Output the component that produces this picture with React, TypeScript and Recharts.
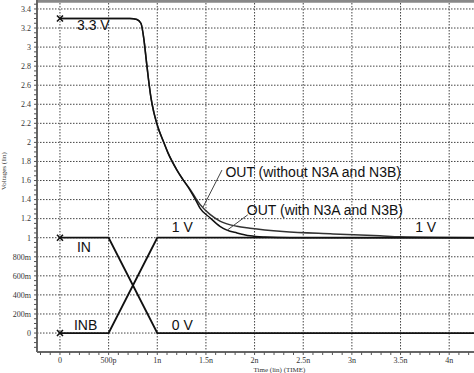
import React from "react";
import {
  LineChart,
  Line,
  XAxis,
  YAxis,
  CartesianGrid,
  ReferenceDot,
  ReferenceLine,
} from "recharts";

// axis ranges (time in ns, voltage in V)
const T_MIN = -0.236;
const T_MAX = 4.255;
const V_MIN = -0.199;
const V_MAX = 3.494;

const xMajor = [0, 0.5, 1, 1.5, 2, 2.5, 3, 3.5, 4];
const xLabels = ["0", "500p", "1n", "1.5n", "2n", "2.5n", "3n", "3.5n", "4n"];
const yMajor = [0, 0.2, 0.4, 0.6, 0.8, 1, 1.2, 1.4, 1.6, 1.8, 2, 2.2, 2.4, 2.6, 2.8, 3, 3.2, 3.4];
const yLabels = ["0", "200m", "400m", "600m", "800m", "1", "1.2", "1.4", "1.6", "1.8", "2", "2.2", "2.4", "2.6", "2.8", "3", "3.2", "3.4"];

// small ticks along the axes
const xMinor = Array.from({ length: 45 }, (_, i) => +(-0.2 + i * 0.1).toFixed(2));
const yMinor = Array.from({ length: 73 }, (_, i) => +(-0.15 + i * 0.05).toFixed(2));

// input pulses
const pulseT = [0, 0.5, 1, 4.255];
const inV = [1, 1, 0, 0];
const inbV = [0, 0, 1, 1];

// OUT falling edge, shared by both curves
const outT = [0, 0.719, 0.791, 0.832, 0.864, 0.884, 0.91, 0.935, 0.966, 1.007, 1.059, 1.11, 1.202, 1.264];
const outV = [3.3, 3.3, 3.29, 3.25, 3.07, 2.89, 2.66, 2.47, 2.31, 2.16, 2.02, 1.89, 1.71, 1.61];

// tails
const withoutT = [1.336, 1.398, 1.439, 1.542, 1.644, 1.819, 1.953, 2.292, 2.806, 3.289, 3.494, 4.255];
const withoutV = [1.51, 1.41, 1.35, 1.245, 1.175, 1.12, 1.1, 1.065, 1.04, 1.02, 1.01, 1.0];
const withT = [1.336, 1.398, 1.439, 1.542, 1.644, 1.716, 1.819, 1.953, 2.107, 2.364, 4.255];
const withV = [1.5, 1.39, 1.31, 1.21, 1.12, 1.08, 1.05, 1.02, 1.007, 1.0, 1.0];

// start markers
const markerV = [3.3, 1, 0];

// text annotations: [t, v, text]
const notes: [number, number, string][] = [
  [0.175, 3.23, "3.3 V"],
  [0.175, 0.9, "IN"],
  [0.144, 0.08, "INB"],
  [1.15, 0.08, "0 V"],
  [1.15, 1.11, "1 V"],
  [3.65, 1.11, "1 V"],
  [1.7, 1.69, "OUT (without N3A and N3B)"],
  [1.92, 1.29, "OUT (with N3A and N3B)"],
];

// leader lines [t1, v1, t2, v2]
const leaders = [
  [1.665, 1.71, 1.47, 1.32],
  [1.93, 1.24, 1.72, 1.08],
];

const toPts = (ts: number[], vs: number[]) => ts.map((t, i) => ({ t, v: vs[i] }));

const inData = toPts(pulseT, inV);
const inbData = toPts(pulseT, inbV);
const outWithout = toPts([...outT, ...withoutT], [...outV, ...withoutV]);
const outWith = toPts([...outT, ...withT], [...outV, ...withV]);

const labelOf = (ticks: number[], labels: string[], v: number) => {
  const i = ticks.findIndex((m) => Math.abs(m - v) < 1e-6);
  return i < 0 ? null : labels[i];
};

const XTick = ({ x, y, payload }: any) => {
  const s = labelOf(xMajor, xLabels, payload.value);
  if (!s) return <g />;
  return (
    <text x={x} y={y} dy="0.71em" textAnchor="middle" fontSize={8} fontFamily="Liberation Serif, serif" fill="#333">
      {s}
    </text>
  );
};

const YTick = ({ x, y, payload }: any) => {
  const s = labelOf(yMajor, yLabels, payload.value);
  if (!s) return <g />;
  return (
    <text x={x} y={y} dy="0.35em" textAnchor="end" fontSize={8} fontFamily="Liberation Serif, serif" fill="#333">
      {s}
    </text>
  );
};

const Cross = ({ cx, cy }: any) => (
  <path
    d={`M${cx - 3},${cy - 3}L${cx + 3},${cy + 3}M${cx + 3},${cy - 3}L${cx - 3},${cy + 3}`}
    stroke="#111"
    strokeWidth={1.6}
  />
);

export default function App() {
  return (
    <div style={{ position: "absolute", left: 0, top: 0, background: "#fff" }}>
      <LineChart width={474} height={373} margin={{ top: 0, right: 0, left: 0, bottom: 0 }}>
        <XAxis
          dataKey="t"
          type="number"
          domain={[T_MIN, T_MAX]}
          ticks={xMinor}
          interval={0}
          allowDataOverflow
          height={21}
          axisLine={{ stroke: "#666", strokeWidth: 2 }}
          tickLine={{ stroke: "#555" }}
          tickSize={3}
          tickMargin={2}
          tick={<XTick />}
          label={{
            value: "Time (lin) (TIME)",
            position: "insideBottom",
            offset: 1,
            dx: 24,
            fontSize: 7,
            fontFamily: "Liberation Serif, serif",
            fill: "#333",
          }}
        />
        <YAxis
          type="number"
          domain={[V_MIN, V_MAX]}
          ticks={yMinor}
          interval={0}
          allowDataOverflow
          width={37}
          axisLine={{ stroke: "#666", strokeWidth: 2 }}
          tickLine={{ stroke: "#555" }}
          tickSize={3}
          tickMargin={3}
          tick={<YTick />}
          label={{
            value: "Voltages (lin)",
            angle: -90,
            position: "insideLeft",
            offset: 4,
            dy: -5,
            fontSize: 7,
            fontFamily: "Liberation Serif, serif",
            fill: "#333",
            textAnchor: "middle",
          }}
        />
        <CartesianGrid
          stroke="#444"
          strokeDasharray="1.5 1.5"
          horizontalValues={yMajor}
          verticalValues={xMajor}
        />
        <ReferenceLine y={V_MAX - 0.012} stroke="#888" strokeWidth={3} />

        <Line data={inData} dataKey="v" type="linear" stroke="#111" strokeWidth={1.8} dot={false} isAnimationActive={false} />
        <Line data={inbData} dataKey="v" type="linear" stroke="#111" strokeWidth={1.8} dot={false} isAnimationActive={false} />
        <Line data={outWithout} dataKey="v" type="monotone" stroke="#333" strokeWidth={1.5} dot={false} isAnimationActive={false} />
        <Line data={outWith} dataKey="v" type="monotone" stroke="#111" strokeWidth={1.5} dot={false} isAnimationActive={false} />

        {leaders.map(([t1, v1, t2, v2], i) => (
          <ReferenceLine
            key={`ld-${i}`}
            segment={[{ x: t1, y: v1 }, { x: t2, y: v2 }]}
            stroke="#444"
            strokeWidth={1}
          />
        ))}
        {markerV.map((v, i) => (
          <ReferenceDot key={`mk-${i}`} x={0} y={v} r={3} shape={<Cross />} />
        ))}
        {notes.map(([t, v, s], i) => (
          <ReferenceDot
            key={`nt-${i}`}
            x={t}
            y={v}
            r={0}
            shape={(p: any) => (
              <text
                x={p.cx}
                y={p.cy}
                dy="0.35em"
                fontSize={14}
                fontFamily="Liberation Sans, Arial, sans-serif"
                fill="#111"
              >
                {s}
              </text>
            )}
          />
        ))}
      </LineChart>
    </div>
  );
}
